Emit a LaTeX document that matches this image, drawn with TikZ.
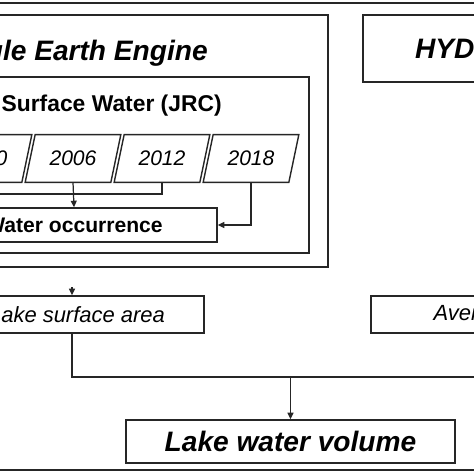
\documentclass[tikz,border=0pt]{standalone}
\usepackage{fontspec}
\setmainfont{Liberation Sans}
\usetikzlibrary{arrows.meta, positioning, calc}

\begin{document}
\begin{tikzpicture}[
    x=0.02cm, y=-0.02cm,
    >={Triangle[length=1.3mm, width=1.2mm]},
    % --- estilos de caja ---
    cont/.style  = {rectangle, draw=black!85, line width=0.9pt, inner sep=0pt},
    yr/.style    = {rectangle, minimum width=17mm, minimum height=9.4mm, inner sep=0pt,
                    font=\fontsize{12}{14}\selectfont\itshape},
    yrline/.style= {draw=black!85, line width=0.8pt},
    box/.style   = {rectangle, draw=black!85, line width=0.9pt, inner sep=0pt, align=center},
    big/.style   = {font=\fontsize{16}{19}\selectfont\bfseries\itshape},
    mid/.style   = {font=\fontsize{12}{14}\selectfont\bfseries},
    arr/.style   = {->, line width=0.7pt, draw=black!85}
]
\useasboundingbox (0,0) rectangle (474,474);
\clip (0,0) rectangle (474,474);

% ===================== MARCO GENERAL =====================
\draw[line width=1.1pt, draw=black!85] (-20,3) rectangle (494,470);

% ===================== GOOGLE EARTH ENGINE =====================
\node[cont, minimum width=105.6mm, minimum height=50.4mm] (gee) at (64,141) {};
\node[big, anchor=east, inner sep=0pt] (geetitle) at (208,53) {Google Earth Engine};
\node[cont, minimum width=97.8mm, minimum height=35.2mm] (jrc) at (64.5,165) {};
\node[mid, font=\fontsize{13}{15}\selectfont\bfseries, anchor=east, inner sep=0pt]
    (jrctitle) at (222,106) {Global Surface Water (JRC)};

% --- anos (paralelogramos) ---
\node[yr] (y2000) at (-16,158.5) {2000};
\node[yr] (y2006) at (73,158.5)  {2006};
\node[yr] (y2012) at (162,158.5) {2012};
\node[yr] (y2018) at (251,158.5) {2018};
\foreach \n in {y2000, y2006, y2012, y2018}
    \draw[yrline] ($(\n.south west)+(-5,0)$) -- ($(\n.north west)+(5,0)$)
        -- ($(\n.north east)+(5,0)$) -- ($(\n.south east)+(-5,0)$) -- cycle;

\node[box, mid, minimum width=57.2mm, minimum height=6.8mm] (wocc) at (74,225) {Water occurrence};

% ===================== HYDROLAKES =====================
\node[box, big, minimum width=60.2mm, minimum height=13.4mm] (hydro) at (513.5,48.5) {HYDROLAKES};

% ===================== RESULTADOS =====================
\node[box, minimum width=50.8mm, minimum height=7.4mm,
      font=\fontsize{12.5}{15}\selectfont\itshape] (lake) at (77,314.5) {Lake surface area};
\node[box, minimum width=62.8mm, minimum height=7.4mm,
      font=\fontsize{12.5}{15}\selectfont\itshape] (avg) at (528,314.5) {Average lake depth};
\node[box, big, minimum width=65.8mm, minimum height=8.6mm] (vol) at (290.5,441.5) {Lake water volume};

% ===================== FLECHAS =====================
\coordinate (join) at (y2006.south |- 0,194);
\draw[arr] (y2006.south) -- (wocc.north);
\draw[arr, -] (y2000.south) |- (join);
\draw[arr, -] (y2012.south) |- (join);
\draw[arr] (y2018.south) |- (wocc.east);

\coordinate (lakein) at (72,287);
\draw[arr] (lakein) -- (lakein |- lake.north);

\coordinate (merge) at (vol.north |- 0,377);
\draw[arr, -] (lakein |- lake.south) |- (merge) -| (avg.south);
\draw[arr] (merge) -- (vol.north);

\end{tikzpicture}
\end{document}
